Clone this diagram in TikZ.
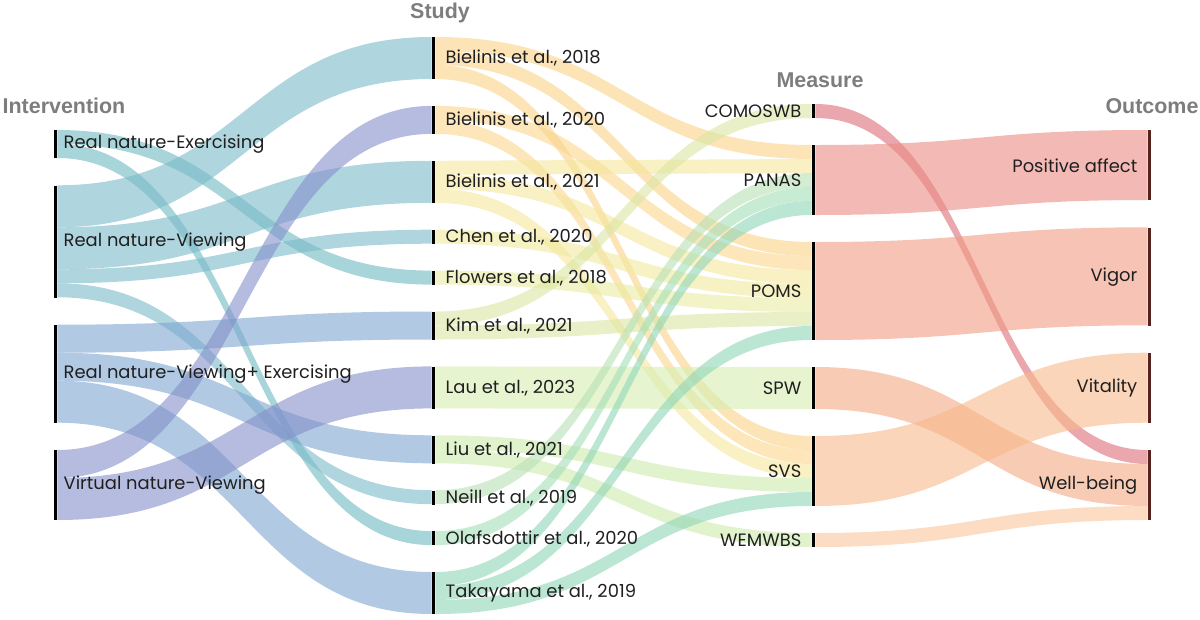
\documentclass[tikz,border=0pt]{standalone}
\usepackage{fontspec}
\setmainfont{Poppins}
\newfontfamily\headfont{Liberation Sans}
\usetikzlibrary{calc,positioning,backgrounds}

% Link colours, one per source node
\definecolor{rnexc}{RGB}{110,185,192}
\definecolor{rnvc}{RGB}{122,185,202}
\definecolor{rnvec}{RGB}{125,165,208}
\definecolor{vnvc}{RGB}{132,144,202}
\definecolor{bie18c}{RGB}{250,210,135}
\definecolor{bie20c}{RGB}{250,214,140}
\definecolor{bie21c}{RGB}{245,230,155}
\definecolor{chenc}{RGB}{240,233,157}
\definecolor{flowc}{RGB}{233,235,160}
\definecolor{kimc}{RGB}{218,230,163}
\definecolor{lauc}{RGB}{213,238,177}
\definecolor{liuc}{RGB}{205,235,172}
\definecolor{neillc}{RGB}{183,225,180}
\definecolor{olafc}{RGB}{163,222,183}
\definecolor{takc}{RGB}{143,213,183}
\definecolor{comoc}{RGB}{220,108,120}
\definecolor{panasc}{RGB}{235,140,132}
\definecolor{pomsc}{RGB}{240,155,132}
\definecolor{spwc}{RGB}{243,168,130}
\definecolor{svsc}{RGB}{248,185,138}
\definecolor{wemc}{RGB}{250,197,155}
\definecolor{headc}{RGB}{125,125,125}
\definecolor{outc}{RGB}{85,35,30}

% link: source, first unit, target, first unit, units, colour
\newcommand{\sankeyflow}[6]{%
    \fill[#6, opacity=0.6]
        let \p1=($(#1.north east)+(0,{#2*14})$),
            \p2=($(#3.north west)+(0,{#4*14})$),
            \p3=($(#1.north east)+(0,{(#2+#5)*14})$),
            \p4=($(#3.north west)+(0,{(#4+#5)*14})$),
            \p5=($(\p1)!0.5!(\p2)$)
        in (\p1) .. controls (\x5,\y1) and (\x5,\y2) .. (\p2)
        -- (\p4) .. controls (\x5,\y4) and (\x5,\y3) .. (\p3) -- cycle;}

\begin{document}
\begin{tikzpicture}[x=0.02cm, y=-0.02cm]
        % One unit of flow is 14 px high
        \tikzset{
            nodebar/.style={fill=black, inner sep=0pt, minimum width=0.06cm,
                minimum height=#1*0.28cm, anchor=north},
            txt/.style={inner sep=0pt, font=\fontsize{10.2}{12}\selectfont, text=black!88},
            head/.style={inner sep=0pt, text=headc, font=\headfont\bfseries\fontsize{12.2}{14}\selectfont},
        }

        \useasboundingbox (0,0) rectangle (1200,619);

        % Intervention
        \node[nodebar=2] (rnex) at (55.5,130) {};
        \node[nodebar=8] (rnv) at (55.5,185.3) {};
        \node[nodebar=7] (rnve) at (55.5,324.7) {};
        \node[nodebar=5] (vnv) at (55.5,450) {};

        % Study
        \node[nodebar=3] (bie18) at (433.5,37) {};
        \node[nodebar=2] (bie20) at (433.5,105.9) {};
        \node[nodebar=3] (bie21) at (433.5,160.8) {};
        \node[nodebar=1] (chen) at (433.5,229.7) {};
        \node[nodebar=1] (flow) at (433.5,270.6) {};
        \node[nodebar=2] (kim) at (433.5,311.5) {};
        \node[nodebar=3] (lau) at (433.5,366.4) {};
        \node[nodebar=2] (liu) at (433.5,435.3) {};
        \node[nodebar=1] (neill) at (433.5,490.2) {};
        \node[nodebar=1] (olaf) at (433.5,531.1) {};
        \node[nodebar=3] (tak) at (433.5,572) {};

        % Measure
        \node[nodebar=1] (como) at (813.5,104) {};
        \node[nodebar=5] (panas) at (813.5,145) {};
        \node[nodebar=7] (poms) at (813.5,242) {};
        \node[nodebar=3] (spw) at (813.5,367) {};
        \node[nodebar=5] (svs) at (813.5,436) {};
        \node[nodebar=1] (wem) at (813.5,533) {};

        % Outcome
        \node[nodebar=5, fill=outc] (posaff) at (1149.5,130) {};
        \node[nodebar=7, fill=outc] (vigor) at (1149.5,227.3) {};
        \node[nodebar=5, fill=outc] (vital) at (1149.5,352.7) {};
        \node[nodebar=5, fill=outc] (wellb) at (1149.5,450) {};

        % Labels
        \node[txt, right=0.12cm of rnex, anchor=west] (rnexl) {Real nature-Exercising};
        \node[txt, right=0.12cm of rnv, anchor=west] (rnvl) {Real nature-Viewing};
        \node[txt, right=0.12cm of rnve, anchor=west] (rnvel) {Real nature-Viewing+ Exercising};
        \node[txt, right=0.12cm of vnv, anchor=west] (vnvl) {Virtual nature-Viewing};

        \node[txt, right=0.2cm of bie18, anchor=west] (bie18l) {Bielinis et al., 2018};
        \node[txt, right=0.2cm of bie20, anchor=west] (bie20l) {Bielinis et al., 2020};
        \node[txt, right=0.2cm of bie21, anchor=west] (bie21l) {Bielinis et al., 2021};
        \node[txt, right=0.2cm of chen, anchor=west] (chenl) {Chen et al., 2020};
        \node[txt, right=0.2cm of flow, anchor=west] (flowl) {Flowers et al., 2018};
        \node[txt, right=0.2cm of kim, anchor=west] (kiml) {Kim et al., 2021};
        \node[txt, right=0.2cm of lau, anchor=west] (laul) {Lau et al., 2023};
        \node[txt, right=0.2cm of liu, anchor=west] (liul) {Liu et al., 2021};
        \node[txt, right=0.2cm of neill, anchor=west] (neilll) {Neill et al., 2019};
        \node[txt, right=0.2cm of olaf, anchor=west] (olafl) {Olafsdottir et al., 2020};
        \node[txt, right=0.2cm of tak, anchor=west] (takl) {Takayama et al., 2019};

        \node[txt, left=0.2cm of como, anchor=east] (comol) {COMOSWB};
        \node[txt, left=0.2cm of panas, anchor=east] (panasl) {PANAS};
        \node[txt, left=0.2cm of poms, anchor=east] (pomsl) {POMS};
        \node[txt, left=0.2cm of spw, anchor=east] (spwl) {SPW};
        \node[txt, left=0.2cm of svs, anchor=east] (svsl) {SVS};
        \node[txt, left=0.2cm of wem, anchor=east] (weml) {WEMWBS};

        \node[txt, left=0.2cm of posaff, anchor=east] (posaffl) {Positive affect};
        \node[txt, left=0.2cm of vigor, anchor=east] (vigorl) {Vigor};
        \node[txt, left=0.2cm of vital, anchor=east] (vitall) {Vitality};
        \node[txt, left=0.2cm of wellb, anchor=east] (wellbl) {Well-being};

        % Column titles
        \node[head] (hint) at (64,106) {Intervention};
        \node[head] (hstudy) at (440,13) {Study};
        \node[head] (hmeas) at (820,80) {Measure};
        \node[head] (hout) at (1152,106) {Outcome};

        % Links behind the nodes
        \begin{scope}[on background layer]
            % Intervention to study
            \sankeyflow{rnex}{0}{flow}{0}{1}{rnexc}
            \sankeyflow{rnex}{1}{olaf}{0}{1}{rnexc}
            \sankeyflow{rnv}{0}{bie18}{0}{3}{rnvc}
            \sankeyflow{rnv}{3}{bie21}{0}{3}{rnvc}
            \sankeyflow{rnv}{6}{chen}{0}{1}{rnvc}
            \sankeyflow{rnv}{7}{neill}{0}{1}{rnvc}
            \sankeyflow{rnve}{0}{kim}{0}{2}{rnvec}
            \sankeyflow{rnve}{2}{liu}{0}{2}{rnvec}
            \sankeyflow{rnve}{4}{tak}{0}{3}{rnvec}
            \sankeyflow{vnv}{0}{bie20}{0}{2}{vnvc}
            \sankeyflow{vnv}{2}{lau}{0}{3}{vnvc}

            % Study to measure
            \sankeyflow{bie18}{0}{panas}{0}{1}{bie18c}
            \sankeyflow{bie18}{1}{poms}{0}{1}{bie18c}
            \sankeyflow{bie18}{2}{svs}{0}{1}{bie18c}
            \sankeyflow{bie20}{0}{poms}{1}{1}{bie20c}
            \sankeyflow{bie20}{1}{svs}{1}{1}{bie20c}
            \sankeyflow{bie21}{0}{panas}{1}{1}{bie21c}
            \sankeyflow{bie21}{1}{poms}{2}{1}{bie21c}
            \sankeyflow{bie21}{2}{svs}{2}{1}{bie21c}
            \sankeyflow{chen}{0}{poms}{3}{1}{chenc}
            \sankeyflow{flow}{0}{poms}{4}{1}{flowc}
            \sankeyflow{kim}{0}{como}{0}{1}{kimc}
            \sankeyflow{kim}{1}{poms}{5}{1}{kimc}
            \sankeyflow{lau}{0}{spw}{0}{3}{lauc}
            \sankeyflow{liu}{0}{svs}{3}{1}{liuc}
            \sankeyflow{liu}{1}{wem}{0}{1}{liuc}
            \sankeyflow{neill}{0}{panas}{2}{1}{neillc}
            \sankeyflow{olaf}{0}{panas}{3}{1}{olafc}
            \sankeyflow{tak}{0}{panas}{4}{1}{takc}
            \sankeyflow{tak}{1}{poms}{6}{1}{takc}
            \sankeyflow{tak}{2}{svs}{4}{1}{takc}

            % Measure to outcome
            \sankeyflow{como}{0}{wellb}{0}{1}{comoc}
            \sankeyflow{panas}{0}{posaff}{0}{5}{panasc}
            \sankeyflow{poms}{0}{vigor}{0}{7}{pomsc}
            \sankeyflow{spw}{0}{wellb}{1}{3}{spwc}
            \sankeyflow{svs}{0}{vital}{0}{5}{svsc}
            \sankeyflow{wem}{0}{wellb}{4}{1}{wemc}
        \end{scope}

\end{tikzpicture}
\end{document}
